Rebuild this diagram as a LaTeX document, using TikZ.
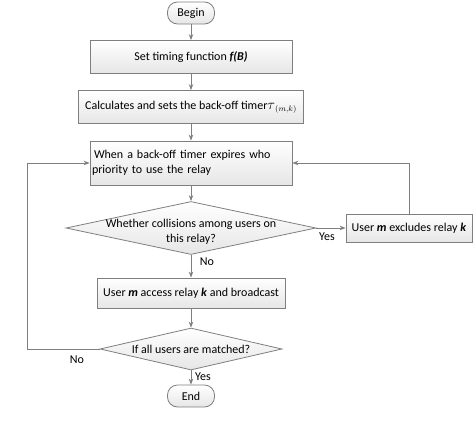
\documentclass[tikz,border=0pt]{standalone}
\usepackage{fontspec}
\setmainfont{Carlito}
\usetikzlibrary{shapes.geometric,arrows.meta}
\definecolor{lineg}{HTML}{7F7F7F}
\definecolor{boxb}{HTML}{E6E6E6}
\begin{document}
\begin{tikzpicture}[x=1pt,y=1pt,
  font=\fontsize{12}{15}\selectfont,
  every node/.style={inner sep=0pt},
  procbox/.style={draw=lineg,line width=0.8pt,top color=white,bottom color=boxb,rectangle,align=center},
  termbox/.style={draw=lineg,line width=0.8pt,top color=white,bottom color=boxb,rectangle,rounded corners=10pt,minimum width=47pt,minimum height=22pt},
  decbox/.style={draw=lineg,line width=0.8pt,top color=white,bottom color=boxb,diamond,align=center},
  flow/.style={draw=lineg,line width=0.8pt,-{Stealth[length=6pt,width=4.5pt]}},
  lab/.style={font=\fontsize{12}{15}\selectfont}]
\useasboundingbox (0,0) rectangle (474,-434);
\node[termbox] (begin) at (191,-13) {Begin};
\node[procbox,minimum width=202pt,minimum height=33pt] (b1) at (191,-57) {Set timing function \textbf{\textit{f(B)}}};
\node[procbox,minimum width=225pt,minimum height=33pt] (b2) at (191,-107) {Calculates and sets the back-off timer{\fontsize{15}{15}\selectfont$\tau$}$_{(m,k)}$};
\node[procbox,minimum width=202pt,minimum height=44pt,text width=198pt,align=left] (b3) at (191,-163) {\hspace*{2pt}When a back-off timer expires who\\priority to use the relay};
\node[decbox,minimum width=250pt,minimum height=53pt] (d1) at (191,-228) {};
\node[align=center] (d1t) at (191,-232) {Whether collisions among users on\\this relay?};
\node[procbox,minimum width=126pt,minimum height=28pt] (ex) at (409,-228) {User \textbf{\textit{m}} excludes relay \textbf{\textit{k}}};
\node[procbox,minimum width=188pt,minimum height=30pt] (b4) at (191,-293) {User \textbf{\textit{m}} access relay \textbf{\textit{k}} and broadcast};
\node[decbox,minimum width=182pt,minimum height=42pt] (d2) at (191,-349) {};
\node (d2t) at (191,-349) {If all users are matched?};
\node[termbox] (end) at (191,-396) {End};
\coordinate (lc1) at (27,-349);
\coordinate (lc2) at (27,-163);
\coordinate (rc1) at (409,-163);
\draw[flow] (begin) -- (b1);
\draw[flow] (b1) -- (b2);
\draw[flow] (b2) -- (b3);
\draw[flow] (b3) -- (d1);
\draw[flow] (d1) -- (b4);
\draw[flow] (d1.east) -- (ex.west);
\draw[flow] (ex.north) -- (rc1) -- (b3.east);
\draw[flow] (b4) -- (d2);
\draw[flow] (d2.west) -- (lc1) -- (lc2) -- (b3.west);
\draw[flow] (d2) -- (end);
\node[lab] (yes1) at (327,-237) {Yes};
\node[lab] (no1) at (207,-262) {No};
\node[lab] (no2) at (77,-360) {No};
\node[lab] (yes2) at (203,-377) {Yes};
\end{tikzpicture}
\end{document}
